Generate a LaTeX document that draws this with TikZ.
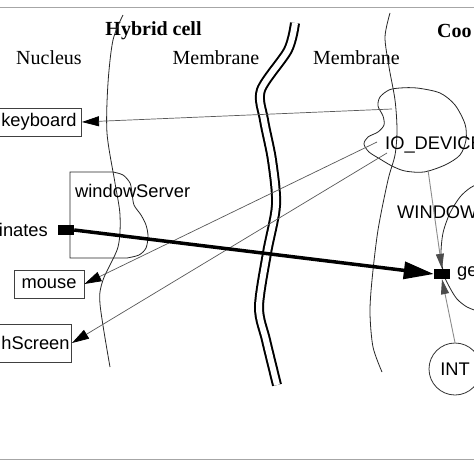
\documentclass[tikz,border=0pt]{standalone}
\usepackage{fontspec}
\setmainfont{Liberation Serif}
\newfontfamily\hvfont{Liberation Sans}
\usetikzlibrary{arrows.meta}
\begin{document}
\begin{tikzpicture}[x=1pt,y=-1pt,
  serif/.style={font=\fontsize{20}{24}\selectfont, inner sep=0pt},
  serifbold/.style={font=\fontsize{20}{24}\selectfont\bfseries, inner sep=0pt},
  sans/.style={font=\hvfont\fontsize{18.3}{22}\selectfont, inner sep=0pt},
  boxnode/.style={sans, draw=black!75, line width=0.8pt, minimum height=28pt, inner xsep=5pt},
  portbox/.style={fill=black, minimum width=16pt, minimum height=10pt, inner sep=0pt},
  membrane/.style={line width=0.8pt, draw=black!85},
  dblmembrane/.style={line width=2pt, double=white, double distance=6pt},
  thinarrow/.style={draw=black!65, line width=0.7pt, -{Triangle[length=17pt,width=10pt,color=black]}},
  greyarrow/.style={draw=black!45, line width=0.9pt, -{Triangle[length=15pt,width=8pt,color=black!70]}},
  thickarrow/.style={line width=3.5pt, -{Triangle[length=30pt,width=17pt]}}]
\useasboundingbox (0,0) rectangle (474,474);
\clip (0,0) rectangle (474,474);
\fill[white] (0,0) rectangle (474,474);
\draw[black!35, line width=1pt] (0,7) -- (474,7);
\draw[black!35, line width=1pt] (0,459) -- (474,459);

% titles
\node[serifbold] (hybrid) at (153.5,31) {Hybrid cell};
\node[serifbold, anchor=west] (coo) at (437,31) {Coo};
\node[serif] (nucleus) at (49,58) {Nucleus};
\node[serif] (mem1) at (216,58) {Membrane};
\node[serif] (mem2) at (356.5,58) {Membrane};

% membranes
\draw[membrane] plot[smooth] coordinates {(123,15) (113,40) (108,83) (107,133) (115,183) (120,215) (118,247) (103,280) (100,304) (110,367)};
\draw[dblmembrane] plot[smooth] coordinates {(295,23) (288,50) (261,90) (264,120) (272,160) (276,205) (267,253) (259,307) (266,340) (277,385)};
\draw[membrane] plot[smooth] coordinates {(390,13) (385,37) (389,67) (395,100) (397,130) (395,155) (388,180) (378,230) (372,280) (370,313) (373,347) (382,372)};

% IO_DEVICE blob
\draw[membrane] plot[smooth cycle] coordinates {(389,90) (380,97) (378,106) (383,116) (384,125) (378,132) (368,137) (364,144) (369,152) (380,159) (392,166) (405,171) (424,172) (445,165) (460,155) (466,140) (465,124) (455,105) (440,93) (417,88) (400,88)};
\node[sans, anchor=west] (io) at (385,145) {IO\_DEVICE};

% windowServer shape
\draw[membrane] (127,258) -- (70,258) -- (70,172) -- (113,172) plot[smooth] coordinates {(113,172) (123,175) (130,183) (132,193) (134,205) (141,215) (146,225) (148,236) (146,248) (139,255) (127,258)};
\node[sans, anchor=west] (ws) at (75,191) {windowServer};

% WINDOW shape
\draw[membrane] plot[smooth] coordinates {(480,183) (470,188) (460,197) (450,213) (443,233) (441,255) (444,275) (450,288) (457,299) (467,307) (480,312)};
\node[sans, anchor=west] (win) at (397,212) {WINDOW};

% boxes
\node[boxnode, anchor=east] (kb) at (82,122) {keyboard};
\node[boxnode, minimum width=70pt] (mouse) at (49,284) {mouse};
\node[boxnode, anchor=east, inner xsep=2pt, minimum height=38pt] (hs) at (72,343) {hScreen};
\node[sans, draw=black!80, circle, minimum size=52pt, line width=0.8pt] (int) at (455,369) {INT};

% ports
\node[portbox] (cport) at (66,230) {};
\node[sans, anchor=east] (coordtxt) at (48,230) {dinates};
\node[portbox] (gport) at (442,274) {};
\node[sans, anchor=west] (getxt) at (457,273) {ge};

% connector start points
\coordinate (iokb) at (392,109);
\coordinate (iomouse) at (377,142);
\coordinate (iohs) at (387,153);
\coordinate (ioge) at (428,170);

% connectors
\draw[thinarrow] (iokb) -- (kb.east);
\draw[thinarrow] (iomouse) -- (mouse.east);
\draw[thinarrow] (iohs) -- (hs.east);
\draw[thickarrow] (cport.east) -- (gport.west);
\draw[greyarrow] (ioge) -- (gport.north);
\draw[greyarrow] (int.north) -- (gport.south);
\end{tikzpicture}
\end{document}
